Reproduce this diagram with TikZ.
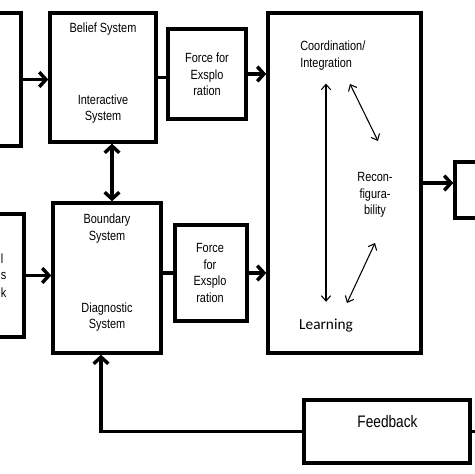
\documentclass[tikz,border=0pt]{standalone}
\usepackage{fontspec}
\setmainfont[FakeStretch=0.82]{Liberation Sans}
\newfontfamily\calib{Carlito}
\usetikzlibrary{arrows.meta,fit}

\begin{document}
\begin{tikzpicture}[x=0.75pt,y=-0.75pt
	,>={Straight Barb[length=5pt,width=11pt]}
	,line join=miter]
  \tikzstyle{blk}=[draw,line width=2.6pt,inner sep=0pt]
  \tikzstyle{txt}=[align=center,inner sep=0pt,font=\fontsize{10}{12.4}\selectfont]
  \tikzstyle{lnk}=[line width=2.6pt]
  \tikzstyle{thin}=[line width=0.8pt
	,{Straight Barb[length=4pt,width=7pt]}-{Straight Barb[length=4pt,width=7pt]}]
  \useasboundingbox (0,0) rectangle (474,474);

  % boxes, left to right
  \node[blk,fit={(-10,13)(21,146)}]   (lefttop) {};
  \node[blk,fit={(-10,214)(24,337)}]  (leftbot) {};
  \node[blk,fit={(50,13)(156,142)}]   (belief) {};
  \node[blk,fit={(53,203)(161,353)}]  (boundary) {};
  \node[blk,fit={(168,29)(246,119)}]  (force1) {};
  \node[blk,fit={(175,225)(247,321)}] (force2) {};
  \node[blk,fit={(268,13)(421,353)}]  (capab) {};
  \node[blk,fit={(455,162)(490,218)}] (outbox) {};
  \node[blk,fit={(304,400)(470,463)}] (feedback) {};

  % texts
  \node[txt,anchor=west] (lb1) at (0.5,259) {l};
  \node[txt,anchor=west] (lb2) at (0.5,276) {s};
  \node[txt,anchor=west] (lb3) at (0.5,293) {k};
  \node[txt] (beltxt)   at (103,29)  {Belief System};
  \node[txt] (intertxt) at (103,109) {Interactive\\System};
  \node[txt] (bndtxt)   at (107,228.5) {Boundary\\System};
  \node[txt] (diagtxt)  at (107,317) {Diagnostic\\System};
  \node[txt] (f1txt)    at (207,74.5) {Force for\\Exsplo\\ration};
  \node[txt] (f2txt)    at (210,273) {Force\\for\\Exsplo\\ration};
  \node[txt,align=left,anchor=west] (coord) at (300,55.5) {Coordination/\\Integration};
  \node[txt] (recon)    at (375,195) {Recon-\\figura-\\bility};
  \node[txt,font=\calib\fontsize{11.5}{14}\selectfont] (learn) at (326,326) {Learning};
  \node[txt,font=\fontsize{12.5}{15}\selectfont] (fbtxt) at (387.5,422) {Feedback};

  % free ends
  \coordinate (ctop) at (350,84);
  \coordinate (rtop) at (378,141);
  \coordinate (rbot) at (375,243);
  \coordinate (lbot) at (347,303);
  \coordinate (fbout) at (480,431.5);

  % thick connectors
  \path [lnk,->] (lefttop.east)  edge (lefttop.east -| belief.west);
  \path [lnk,->] (leftbot.east)  edge (leftbot.east -| boundary.west);
  \path [lnk   ] (belief.east)   edge (belief.east -| force1.west);
  \path [lnk,->] (force1.east)   edge (force1.east -| capab.west);
  \path [lnk   ] (force2.west -| boundary.east) edge (force2.west);
  \path [lnk,->] (force2.east)   edge (force2.east -| capab.west);
  \path [lnk,->] (capab.east)    edge (capab.east -| outbox.west);
  \path [lnk,<->] ([xshift=6.75pt]belief.south) edge ([xshift=6.75pt]belief.south |- boundary.north);
  \draw [lnk,->] (feedback.west) -| ([xshift=-4.5pt]boundary.south);
  \path [lnk   ] (feedback.east) edge (fbout);

  % inside the big box
  \path [thin,shorten <=10pt,shorten >=13pt] (learn.north |- coord.south) edge (learn.north);
  \path [thin] (ctop) edge (rtop);
  \path [thin] (rbot) edge (lbot);
\end{tikzpicture}
\end{document}
